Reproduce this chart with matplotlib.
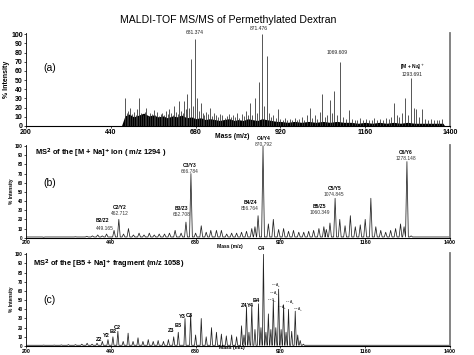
import matplotlib
matplotlib.use("Agg")
import matplotlib.pyplot as plt

plt.rcParams['font.family'] = ['Liberation Sans', 'DejaVu Sans']
plt.rcParams['mathtext.fontset'] = 'dejavusans'

# ------------------------------------------------------------------ data
x_ticks = [200, 440, 680, 920, 1160, 1400]
y_ticks = [0, 10, 20, 30, 40, 50, 60, 70, 80, 90, 100]

# panel (a): MS spectrum (peaks / noise spikes, % intensity)
a_mz = [481, 486, 490, 495, 500, 505, 510, 515, 521, 526, 531, 536, 541, 546, 551, 556,
        561, 566, 571, 576, 581, 586, 591, 596, 601, 606, 611, 616, 619, 624, 629, 633,
        638, 643, 647, 652, 657, 662, 666, 672, 678, 684, 689, 694, 700, 705, 710, 716,
        722, 727, 733, 738, 744, 750, 756, 762, 768, 774, 780, 786, 792, 798, 804, 810,
        816, 822, 828, 834, 840, 848, 854, 860, 867, 874, 882, 888, 894, 900, 907, 914,
        920, 927, 934, 940, 947, 954, 960, 967, 974, 980, 987, 994, 1003, 1010, 1017, 1024,
        1031, 1038, 1045, 1052, 1059, 1066, 1073, 1080, 1090, 1098, 1105, 1115, 1122, 1130,
        1138, 1146, 1154, 1162, 1170, 1178, 1186, 1194, 1202, 1210, 1218, 1226, 1234, 1241,
        1249, 1256, 1264, 1274, 1282, 1290, 1297, 1305, 1313, 1321, 1330, 1338, 1346, 1354,
        1362, 1370, 1378]
a_int = [30, 14, 16, 20, 13, 15, 12, 18, 30, 14, 12, 15, 20, 11, 14, 13,
         17, 12, 15, 11, 13, 14, 12, 16, 13, 18, 14, 12, 22, 15, 13, 27,
         16, 14, 27, 18, 35, 20, 73, 22, 95, 30, 16, 25, 14, 12, 15, 13,
         20, 11, 14, 12, 10, 13, 12, 9, 11, 13, 10, 12, 10, 14, 9, 13,
         11, 16, 12, 25, 12, 30, 14, 48, 100, 22, 76, 14, 10, 12, 9, 18,
         8, 7, 9, 6, 8, 7, 9, 6, 8, 10, 7, 12, 20, 9, 12, 8,
         15, 35, 10, 12, 28, 14, 38, 12, 70, 10, 8, 17, 8, 6,
         7, 9, 6, 8, 7, 6, 9, 7, 8, 6, 9, 8, 10, 25,
         12, 10, 14, 30, 12, 52, 20, 18, 10, 18, 8, 7, 8, 6,
         7, 6, 8]
# dense noise floor level of panel (a)
a_floor_mz = [470, 480, 492, 505, 520, 533, 548, 560, 574, 588, 600, 615, 628, 640, 655,
              668, 680, 695, 708, 720, 735, 748, 760, 775, 790, 800, 815, 828, 840, 855,
              868, 880, 895, 910, 920, 940, 960, 980, 1000, 1020, 1040, 1060, 1080, 1100,
              1120, 1140, 1160, 1180, 1200, 1220, 1240, 1260, 1280, 1300, 1320, 1340, 1360,
              1380, 1385]
a_floor_int = [0, 11, 13, 10, 12, 14, 11, 12, 10, 11, 9, 11, 10, 12, 9,
               10, 8, 9, 7, 8, 7, 6, 7, 8, 6, 7, 6, 8, 7, 6,
               8, 7, 6, 5, 5, 4, 5, 4, 5, 4, 5, 4, 5, 4,
               4, 3, 4, 3, 4, 3, 4, 3, 4, 3, 3, 3, 3,
               3, 0]
a_peak_labels = ["681.374", "871.476", "1069.609", "1293.691"]

# panel (b): MS2 of [M+Na]+ m/z 1294
b_mz = [250, 300, 340, 372, 388, 403, 416, 428, 449.2, 462.7, 476, 490, 504, 520, 534,
        549, 563, 577, 592, 606, 622, 639, 652.7, 666.8, 680, 696, 710, 723, 739, 753,
        768, 782, 796, 810, 824, 839, 848, 856.8, 870.8, 886, 900, 915, 929, 943, 957,
        972, 986, 1000, 1014, 1029, 1043, 1050, 1060.3, 1074.8, 1088, 1103, 1118, 1132,
        1146, 1160, 1176, 1190, 1204, 1218, 1232, 1246, 1260, 1270, 1278.1, 1290]
b_int = [0.5, 0.8, 1, 1.5, 2, 3, 2, 4, 8, 20, 4, 10, 3, 5, 3,
         5, 3, 4, 4, 5, 8, 5, 17, 70, 5, 13, 6, 8, 8, 8,
         4, 5, 5, 6, 7, 10, 12, 24, 100, 15, 20, 9, 10, 7, 8,
         6, 6, 7, 8, 10, 12, 9, 16, 43, 20, 13, 24, 12,
         14, 20, 43, 12, 8, 6, 8, 10, 15, 12, 83, 2]
b_names = ["B2/Z2", "C2/Y2", "B3/Z3", "C3/Y3", "B4/Z4", "C4/Y4", "B5/Z5", "C5/Y5", "C6/Y6"]
b_values = ["449.165", "462.712", "652.708", "666.784", "856.764", "870.792",
            "1060.349", "1074.845", "1278.148"]

# panel (c): MS2 of [B5+Na]+ fragment m/z 1058
c_mz = [220, 250, 280, 300, 320, 340, 358, 373, 387, 401, 416, 432, 446, 460, 475, 489,
        503, 517, 531, 546, 560, 574, 589, 603, 618, 631, 650, 666, 680, 696, 710, 725,
        739, 753, 767, 782, 796, 810, 817, 824, 831, 839, 848, 858, 865, 872, 879, 886,
        893, 900, 907, 915, 922, 929, 936, 943, 952, 962, 969, 976, 985]
c_int = [0.8, 1, 1, 1.2, 1.5, 1.5, 2, 3, 2, 3, 5, 7, 10, 16, 5, 14,
         5, 9, 5, 7, 5, 6, 5, 7, 10, 15, 30, 35, 12, 30, 10, 20,
         15, 13, 11, 12, 10, 22, 12, 43, 15, 43, 18, 46, 20, 100, 15, 35,
         18, 50, 20, 62, 18, 45, 15, 40, 16, 38, 12, 6, 2]
c_names = ["Z2", "Y2", "B2", "C2", "Z3", "B3", "Y3", "C3", "Z4", "Y4", "B4", "C4"]
c_cross = [r"$^{0,4}$A$_5$", r"$^{4,5}$A$_5$", r"$^{1,5}$X$_4$", r"$^{2,4}$A$_5$",
           r"$^{1,1}$A$_5$", r"$^{3,5}$A$_4$"]

# ------------------------------------------------------------------ layout
W, H = 474, 355
fig = plt.figure(figsize=(W / 100, H / 100), dpi=100)


def fx(px):
    return px / W


def fy(py):
    return 1 - py / H


def make_axes(bottom_px, big):
    ax = fig.add_axes([fx(26), fy(bottom_px), fx(450) - fx(26), 92.6 / H])
    ax.set_xlim(200, 1400)
    ax.set_ylim(0, 101)
    ax.spines['top'].set_visible(False)
    ax.spines['right'].set_color('#7a7a7a')
    ax.spines['right'].set_linewidth(1.3)
    ax.spines['left'].set_linewidth(0.6)
    ax.spines['bottom'].set_linewidth(0.8)
    ax.set_xticks(x_ticks)
    ax.set_yticks(y_ticks)
    ax.set_xticklabels([str(t) for t in x_ticks])
    ax.set_yticklabels([str(t) for t in y_ticks])
    xs = 5.0 if big else 3.8
    ys = 5.0 if big else 3.3
    ax.tick_params(axis='x', labelsize=xs, length=1.5, width=0.5, pad=0.5)
    ax.tick_params(axis='y', labelsize=ys, length=1.5, width=0.5, pad=0.8)
    for lab in ax.get_xticklabels() + ax.get_yticklabels():
        lab.set_fontweight('bold')
    ax.set_ylabel('% Intensity', fontsize=5.0 if big else 3.4, fontweight='bold', labelpad=1)
    return ax


def trace(mz, inten, base, w):
    xs, ys = [200], [base]
    for m, h in sorted(zip(mz, inten)):
        xs += [m - w, m, m + w]
        ys += [base, h, base]
    xs.append(1400)
    ys.append(base)
    return xs, ys


# title
fig.text(fx(228), fy(20), 'MALDI-TOF MS/MS of Permethylated Dextran', fontsize=7.6,
         ha='center', va='center')

# ---------------- panel (a)
axa = make_axes(126, True)
axa.fill_between(a_floor_mz, a_floor_int, color='black', lw=0)
axa.vlines(a_mz, 0, a_int, color='#3a3a3a', lw=0.6)
fig.text(fx(50), fy(68), '(a)', fontsize=7.5, ha='center', va='center')
fig.text(fx(232), fy(136.5), 'Mass (m/z)', fontsize=4.8, fontweight='bold', ha='center', va='center')
a_lab_pos = [(194.3, 32.8), (258.3, 28.7), (337.3, 52.3), (412.3, 74.0)]
for t, (px, py) in zip(a_peak_labels, a_lab_pos):
    fig.text(fx(px), fy(py), t, fontsize=3.6, ha='center', va='center', color='#222222')
fig.text(fx(412.3), fy(66.7), '[M + Na]$^+$', fontsize=3.6, fontweight='bold', ha='center', va='center')

# ---------------- panel (b)
axb = make_axes(237.7, False)
xb, yb = trace(b_mz, b_int, 0.8, 4.0)
axb.plot(xb, yb, color='#222222', lw=0.55)
fig.text(fx(35), fy(153), 'MS$^{\\mathbf{2}}$ of the [M + Na]$^{\\mathbf{+}}$ ion ( m/z 1294 )',
         fontsize=5.4, fontweight='bold', ha='left', va='center')
fig.text(fx(50), fy(183), '(b)', fontsize=7.5, ha='center', va='center')
fig.text(fx(230), fy(246.7), 'Mass (m/z)', fontsize=3.6, fontweight='bold', ha='center', va='center')
b_name_pos = [(102.7, 221), (120, 207.3), (181.7, 209), (190, 165.7), (250, 202.7),
              (263.3, 138.3), (319.3, 206.5), (334.3, 188.5), (406, 152.5)]
b_val_pos = [(105, 228.3), (120, 213.3), (182, 214.3), (190, 171.7), (250, 208.3),
             (263.3, 144.5), (320, 212.5), (334.3, 194.5), (406, 158)]
for t, (px, py) in zip(b_names, b_name_pos):
    fig.text(fx(px), fy(py), t, fontsize=3.5, fontweight='bold', ha='center', va='center')
for t, (px, py) in zip(b_values, b_val_pos):
    fig.text(fx(px), fy(py), t, fontsize=3.5, ha='center', va='center', color='#333333')

# ---------------- panel (c)
axc = make_axes(346, False)
xc, yc = trace(c_mz, c_int, 0.8, 3.0)
axc.plot(xc, yc, color='#222222', lw=0.55)
fig.text(fx(33), fy(264), 'MS$^{\\mathbf{2}}$ of the [B5 + Na]$^{\\mathbf{+}}$ fragment (m/z 1058)',
         fontsize=5.4, fontweight='bold', ha='left', va='center')
fig.text(fx(50), fy(300), '(c)', fontsize=7.5, ha='center', va='center')
fig.text(fx(232), fy(347.5), 'Mass (m/z)', fontsize=3.6, fontweight='bold', ha='center', va='center')
c_name_pos = [(99.3, 339.3), (106, 335.7), (113.3, 331.7), (117.3, 327.7), (171.5, 330),
              (178, 325.8), (182.7, 317), (189.3, 315.5), (243.7, 305.5), (250.3, 305.5),
              (256, 300), (261.7, 249)]
for t, (px, py) in zip(c_names, c_name_pos):
    fig.text(fx(px), fy(py), t, fontsize=4.0, fontweight='bold', ha='center', va='center')
c_cross_pos = [(276, 286.0), (273.5, 294.0), (272.5, 301.0), (281.5, 307.8), (290, 302.6), (298.5, 309.8)]
for t, (px, py) in zip(c_cross, c_cross_pos):
    fig.text(fx(px), fy(py), t, fontsize=2.4, ha='center', va='center')

fig.savefig('out.png', dpi=100)
